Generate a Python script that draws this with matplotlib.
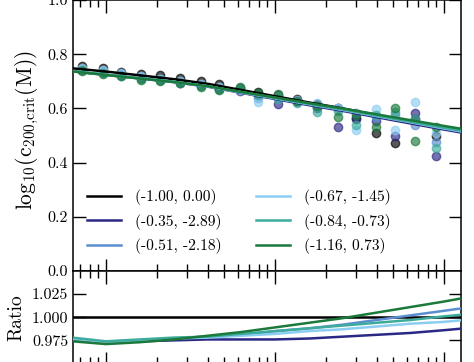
import numpy as np
import matplotlib
matplotlib.use("Agg")
import matplotlib.pyplot as plt
from matplotlib.ticker import FormatStrFormatter, LogLocator

plt.rcParams['font.family'] = 'serif'
plt.rcParams['font.serif'] = ['cmr10']
plt.rcParams['mathtext.fontset'] = 'cm'
plt.rcParams['axes.formatter.use_mathtext'] = True

# model labels and colours
labels = ["(-1.00, 0.00)", "(-0.35, -2.89)", "(-0.51, -2.18)",
          "(-0.67, -1.45)", "(-0.84, -0.73)", "(-1.16, 0.73)"]
colors = ["#000000", "#2b2785", "#5b8ed0", "#8ccdf2", "#3dab9b", "#1b7a3b"]

# fiducial concentration-mass relation (log10 M, log10 c)
logm_line = [12.80, 13.00, 13.20, 13.40, 13.60, 13.80, 14.00, 14.20,
             14.40, 14.60, 14.80, 15.00, 15.12]
logc_fid = [0.748, 0.736, 0.722, 0.708, 0.691, 0.668, 0.645, 0.622,
            0.600, 0.576, 0.552, 0.528, 0.514]

# ratio c_model / c_fiducial on the same grid
ratio = [
    [1.000] * 13,
    [0.975, 0.972, 0.974, 0.975, 0.976, 0.976, 0.976, 0.977, 0.979, 0.981, 0.983, 0.986, 0.988],
    [0.976, 0.973, 0.975, 0.977, 0.979, 0.981, 0.985, 0.988, 0.992, 0.997, 1.002, 1.007, 1.010],
    [0.977, 0.973, 0.975, 0.977, 0.978, 0.980, 0.982, 0.985, 0.987, 0.990, 0.993, 0.995, 0.997],
    [0.978, 0.974, 0.976, 0.978, 0.979, 0.982, 0.985, 0.988, 0.991, 0.994, 0.997, 1.001, 1.003],
    [0.974, 0.971, 0.973, 0.976, 0.980, 0.984, 0.989, 0.994, 0.999, 1.005, 1.011, 1.017, 1.021],
]

# measured halo concentrations per mass bin
logm_pts = [12.86, 12.98, 13.09, 13.21, 13.32, 13.44, 13.56, 13.67, 13.79, 13.90,
            14.02, 14.13, 14.25, 14.37, 14.48, 14.60, 14.71, 14.83, 14.95]
logc_pts = [
    [0.755, 0.748, 0.736, 0.728, 0.722, 0.712, 0.700, 0.690, 0.675, 0.660,
     0.648, 0.635, 0.618, 0.600, 0.563, 0.508, 0.471, 0.560, 0.497],
    [0.742, 0.735, 0.724, 0.712, 0.705, 0.692, 0.685, 0.672, 0.665, 0.650,
     0.615, 0.630, 0.602, 0.530, 0.560, 0.555, 0.497, 0.582, 0.424],
    [0.745, 0.738, 0.727, 0.715, 0.708, 0.698, 0.688, 0.675, 0.674, 0.640,
     0.640, 0.622, 0.604, 0.600, 0.582, 0.567, 0.574, 0.538, 0.475],
    [0.748, 0.740, 0.730, 0.718, 0.710, 0.700, 0.690, 0.680, 0.668, 0.622,
     0.645, 0.630, 0.620, 0.603, 0.519, 0.597, 0.519, 0.622, 0.510],
    [0.740, 0.732, 0.720, 0.708, 0.703, 0.695, 0.683, 0.670, 0.670, 0.648,
     0.635, 0.619, 0.585, 0.590, 0.538, 0.575, 0.585, 0.560, 0.453],
    [0.737, 0.728, 0.718, 0.703, 0.700, 0.692, 0.680, 0.667, 0.678, 0.655,
     0.652, 0.628, 0.608, 0.567, 0.575, 0.530, 0.600, 0.479, 0.532],
]

m_line = 10 ** np.array(logm_line)
m_pts = 10 ** np.array(logm_pts)

fig = plt.figure(figsize=(4.74, 3.62), dpi=100)
ax1 = fig.add_axes([73 / 474, 91 / 362, 388 / 474, 271 / 362])
ax2 = fig.add_axes([73 / 474, -1.5 / 362, 388 / 474, 92.5 / 362], sharex=ax1)

for i in range(len(labels)):
    ax1.plot(m_pts, logc_pts[i], 'o', color=colors[i], ms=6, alpha=0.65,
             mec=colors[i], mew=1.0, zorder=2)

for i in range(len(labels)):
    model = np.array(logc_fid) + np.log10(ratio[i])
    ax1.plot(m_line, model, color=colors[i], lw=1.8, label=labels[i], zorder=3)
    ax2.plot(m_line, ratio[i], color=colors[i], lw=1.8, zorder=3)

ax1.set_xscale('log')
ax1.set_xlim(10 ** 12.805, 10 ** 15.1)
ax1.set_ylim(0.0, 1.0)
ax1.set_yticks([0.0, 0.2, 0.4, 0.6, 0.8, 1.0])
ax1.yaxis.set_major_formatter(FormatStrFormatter('%.1f'))
ax1.set_ylabel(r'$\mathrm{log}_{10}(\mathrm{c}_{200,\!\mathrm{crit}}(\mathrm{M}))$', fontsize=15.5)
ax1.yaxis.set_label_coords(-0.082, 0.52)

ax2.set_ylim(0.95, 1.05)
ax2.set_yticks([0.975, 1.0, 1.025])
ax2.yaxis.set_major_formatter(FormatStrFormatter('%.3f'))
ax2.set_ylabel('Ratio', fontsize=14)
ax2.yaxis.set_label_coords(-0.122, 0.5)

for ax in (ax1, ax2):
    ax.xaxis.set_major_locator(LogLocator(base=10))
    ax.xaxis.set_minor_locator(LogLocator(base=10, subs=np.arange(2, 10)))
    ax.tick_params(which='both', direction='in', top=True, right=True,
                   labelsize=11.5, width=1.0, labelbottom=False)
    ax.tick_params(which='major', length=9)
    ax.tick_params(which='minor', length=5)
    for s in ax.spines.values():
        s.set_linewidth(1.1)

ax1.legend(loc='lower left', bbox_to_anchor=(0.0, 0.01), ncol=2, frameon=False,
           fontsize=11.2, handlelength=2.2, handletextpad=0.9,
           columnspacing=2.2, labelspacing=0.55)

fig.savefig('out.png', dpi=100)
